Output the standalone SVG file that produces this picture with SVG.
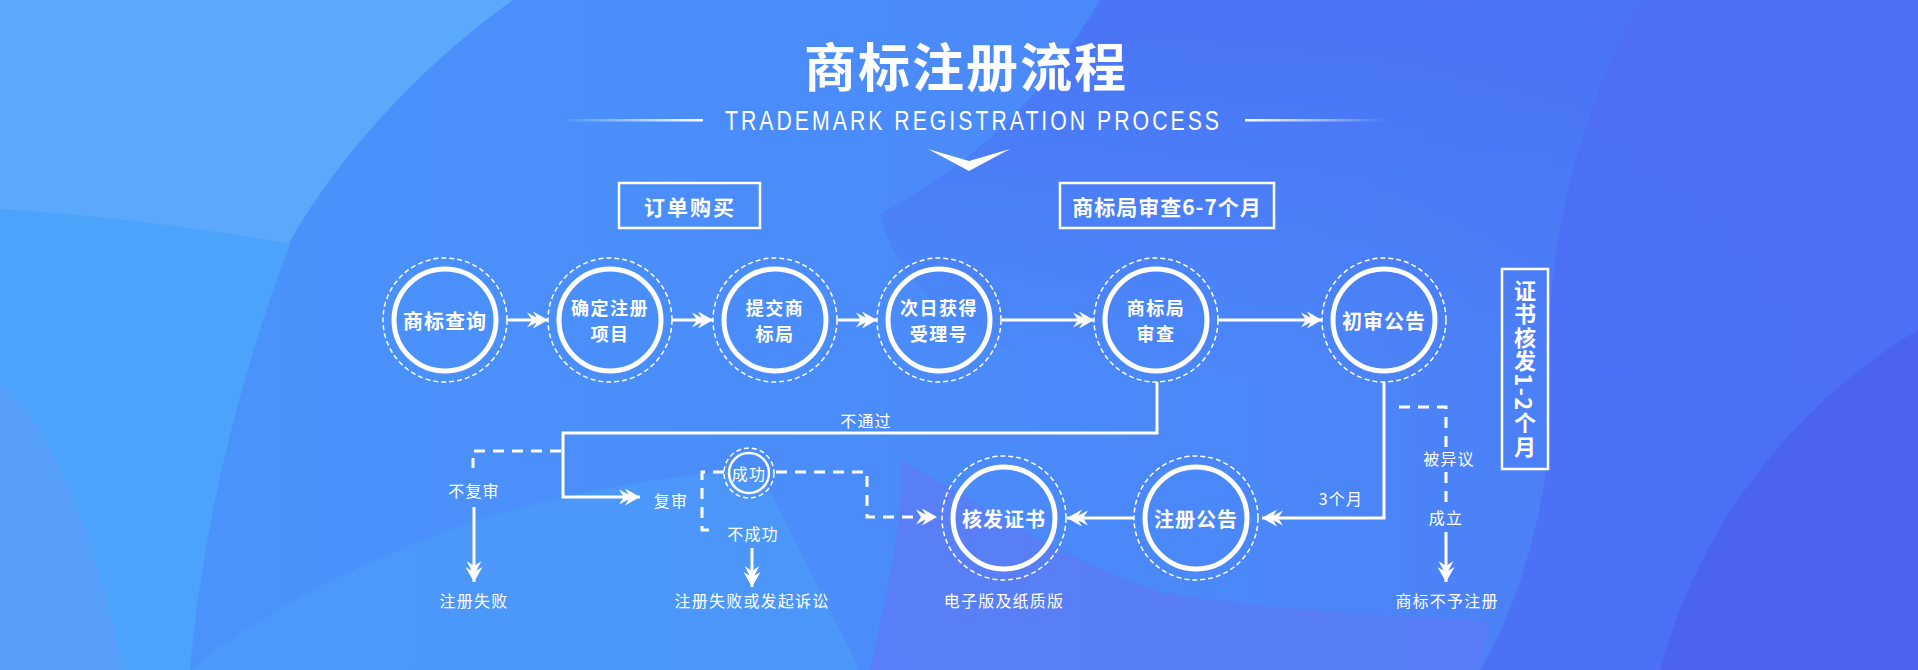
<svg xmlns="http://www.w3.org/2000/svg" width="1918" height="670" viewBox="0 0 1918 670">
<defs>
<style>
.cjk{font-family:"Noto Sans CJK SC","Noto Sans",sans-serif;fill:#fff;}
.node-t{font-size:20px;font-weight:bold;text-anchor:middle;dominant-baseline:central;letter-spacing:1px;}
.node-2{font-size:18px;font-weight:bold;text-anchor:middle;dominant-baseline:central;letter-spacing:1.5px;}
.lbl{font-size:16px;text-anchor:middle;dominant-baseline:central;letter-spacing:1.2px;}
.box{fill:none;stroke:#fff;stroke-width:2.5;}
.ring{fill:none;stroke:#fff;stroke-width:5;}
.dring{fill:none;stroke:#fff;stroke-width:1.5;stroke-dasharray:5 3;}
.ln{fill:none;stroke:#fff;stroke-width:3;}
.dash{fill:none;stroke:#fff;stroke-width:3;stroke-dasharray:11 8;}
</style>
<marker id="arr" viewBox="-22 -10 24 20" refX="0" refY="0" markerWidth="24" markerHeight="20" markerUnits="userSpaceOnUse" orient="auto">
<path d="M0,0 L-15,-8.5 L-10,0 L-15,8.5 Z M-7,0 L-21,-7.5 L-16,0 L-21,7.5 Z" fill="#fff"/>
</marker>
<linearGradient id="lgL" x1="0" x2="1" y1="0" y2="0">
<stop offset="0" stop-color="#fff" stop-opacity="0"/>
<stop offset="1" stop-color="#fff" stop-opacity="1"/>
</linearGradient>
<linearGradient id="lgR" x1="0" x2="1" y1="0" y2="0">
<stop offset="0" stop-color="#fff" stop-opacity="1"/>
<stop offset="1" stop-color="#fff" stop-opacity="0"/>
</linearGradient>
<linearGradient id="bg" x1="0" x2="1" y1="0" y2="0">
<stop offset="0" stop-color="#4b94fb"/>
<stop offset="0.45" stop-color="#4a8cfa"/>
<stop offset="0.7" stop-color="#4b86f8"/>
<stop offset="1" stop-color="#4b74f5"/>
</linearGradient>
<linearGradient id="topR" gradientUnits="userSpaceOnUse" x1="0" y1="0" x2="0" y2="380">
<stop offset="0" stop-color="#4a72f6" stop-opacity="0.9"/>
<stop offset="1" stop-color="#4a72f6" stop-opacity="0"/>
</linearGradient>
</defs>

<g id="background">
<rect x="0" y="0" width="1918" height="670" fill="url(#bg)"/>
<path d="M1100,0 C1040,100 990,150 880,215 C900,300 1000,360 1100,380 L1918,380 L1918,0 Z" fill="url(#topR)"/>
<path d="M1640,0 C1560,150 1540,300 1550,440 C1540,540 1510,620 1480,670 L1918,670 L1918,0 Z" fill="#4c6ef4" opacity="0.85"/>
<path d="M1918,330 C1800,400 1700,520 1660,670 L1918,670 Z" fill="#4a60f0" opacity="0.7"/>
<path d="M870,670 C890,580 905,510 900,460 C960,490 1040,550 1160,592 C1300,615 1420,615 1490,622 L1480,670 Z" fill="#5a7df6" opacity="0.85"/>
<path d="M0,0 L513,0 C400,80 300,200 262,300 C225,400 195,550 190,670 L0,670 Z" fill="#5ba8fc"/>
<path d="M0,209 C100,215 200,228 290,244 C250,350 205,500 190,670 L0,670 Z" fill="#4ca3fb"/>
<path d="M0,385 C50,420 100,550 123,670 L0,670 Z" fill="#579ef9"/>
<path d="M190,670 C260,610 400,540 520,508 C620,482 700,472 760,470 L860,670 Z" fill="#4e9cfa" opacity="0.6"/>
</g>

<g id="title">
<text class="cjk" x="966" y="87" font-size="52" font-weight="bold" text-anchor="middle" letter-spacing="2">商标注册流程</text>
<text x="725" y="130" font-family="Liberation Sans, sans-serif" font-size="28" fill="#fff" letter-spacing="4" textLength="497" lengthAdjust="spacingAndGlyphs">TRADEMARK REGISTRATION PROCESS</text>
<rect x="560" y="119" width="143" height="2.5" fill="url(#lgL)"/>
<rect x="1245" y="119" width="142" height="2.5" fill="url(#lgR)"/>
<polygon points="928,149 969,161 1010,149 969,171" fill="#fff"/>
</g>

<g id="box-order">
<rect class="box" x="619" y="183" width="141" height="45"/>
<text class="cjk" x="690" y="206" font-size="21" font-weight="bold" text-anchor="middle" dominant-baseline="central" letter-spacing="2">订单购买</text>
</g>
<g id="box-review">
<rect class="box" x="1060" y="183" width="214" height="45"/>
<text class="cjk" x="1167" y="206" font-size="21" font-weight="bold" text-anchor="middle" dominant-baseline="central" letter-spacing="1">商标局审查6-7个月</text>
</g>
<g id="box-cert">
<rect class="box" x="1502" y="269" width="46" height="200"/>
<text class="cjk" x="1525" y="369" font-size="22" font-weight="bold" text-anchor="middle" letter-spacing="1.5" style="writing-mode:vertical-rl">证书核发1-2个月</text>
</g>

<g id="connectors">
<path class="ln" d="M507,320 H548" marker-end="url(#arr)"/>
<path class="ln" d="M672,320 H713" marker-end="url(#arr)"/>
<path class="ln" d="M837,320 H877" marker-end="url(#arr)"/>
<path class="ln" d="M1001,320 H1094" marker-end="url(#arr)"/>
<path class="ln" d="M1218,320 H1322" marker-end="url(#arr)"/>
<path class="ln" d="M1157,382 V433 H563 V497 H640" marker-end="url(#arr)"/>
<path class="dash" d="M561,451 H473 V468"/>
<path class="ln" d="M474,507 V582" marker-end="url(#arr)"/>
<path class="dash" d="M724,472 H702 V530 H714"/>
<path class="dash" d="M776,472 H867 V517 H937" marker-end="url(#arr)"/>
<path class="ln" d="M752,548 V587" marker-end="url(#arr)"/>
<path class="ln" d="M1384,382 V518 H1262" marker-end="url(#arr)"/>
<path class="ln" d="M1134,518 H1067" marker-end="url(#arr)"/>
<path class="dash" d="M1399,407 H1446 V452"/>
<path class="dash" d="M1446,472 V507"/>
<path class="ln" d="M1446,532 V582" marker-end="url(#arr)"/>
</g>

<g id="n-query">
<circle class="dring" cx="445" cy="320" r="62"/>
<circle class="ring" cx="445" cy="320" r="51"/>
<text class="cjk node-t" x="445" y="320">商标查询</text>
</g>
<g id="n-confirm">
<circle class="dring" cx="610" cy="320" r="62"/>
<circle class="ring" cx="610" cy="320" r="51"/>
<text class="cjk node-2"><tspan x="610" y="307">确定注册</tspan><tspan x="610" y="333">项目</tspan></text>
</g>
<g id="n-submit">
<circle class="dring" cx="775" cy="320" r="62"/>
<circle class="ring" cx="775" cy="320" r="51"/>
<text class="cjk node-2"><tspan x="775" y="307">提交商</tspan><tspan x="775" y="333">标局</tspan></text>
</g>
<g id="n-accept">
<circle class="dring" cx="939" cy="320" r="62"/>
<circle class="ring" cx="939" cy="320" r="51"/>
<text class="cjk node-2"><tspan x="939" y="307">次日获得</tspan><tspan x="939" y="333">受理号</tspan></text>
</g>
<g id="n-exam">
<circle class="dring" cx="1156" cy="320" r="62"/>
<circle class="ring" cx="1156" cy="320" r="51"/>
<text class="cjk node-2"><tspan x="1156" y="307">商标局</tspan><tspan x="1156" y="333">审查</tspan></text>
</g>
<g id="n-prelim">
<circle class="dring" cx="1384" cy="320" r="62"/>
<circle class="ring" cx="1384" cy="320" r="51"/>
<text class="cjk node-t" x="1384" y="320">初审公告</text>
</g>
<g id="n-cert">
<circle class="dring" cx="1004" cy="518" r="62"/>
<circle class="ring" cx="1004" cy="518" r="51"/>
<text class="cjk node-t" x="1004" y="518">核发证书</text>
</g>
<g id="n-regpub">
<circle class="dring" cx="1196" cy="518" r="62"/>
<circle class="ring" cx="1196" cy="518" r="51"/>
<text class="cjk node-t" x="1196" y="518">注册公告</text>
</g>
<g id="n-success">
<circle class="dring" cx="749" cy="473" r="25"/>
<circle class="ring" cx="749" cy="473" r="20" style="stroke-width:2.5"/>
<text class="cjk lbl" x="749" y="473" letter-spacing="0">成功</text>
</g>

<g id="labels">
<text class="cjk lbl" x="866" y="420">不通过</text>
<text class="cjk lbl" x="474" y="490">不复审</text>
<text class="cjk lbl" x="474" y="600">注册失败</text>
<text class="cjk lbl" x="671" y="500">复审</text>
<text class="cjk lbl" x="753" y="533">不成功</text>
<text class="cjk lbl" x="752" y="600">注册失败或发起诉讼</text>
<text class="cjk lbl" x="1004" y="600">电子版及纸质版</text>
<text class="cjk lbl" x="1341" y="498" letter-spacing="0">3个月</text>
<text class="cjk lbl" x="1449" y="458">被异议</text>
<text class="cjk lbl" x="1446" y="517">成立</text>
<text class="cjk lbl" x="1447" y="600">商标不予注册</text>
</g>
</svg>
